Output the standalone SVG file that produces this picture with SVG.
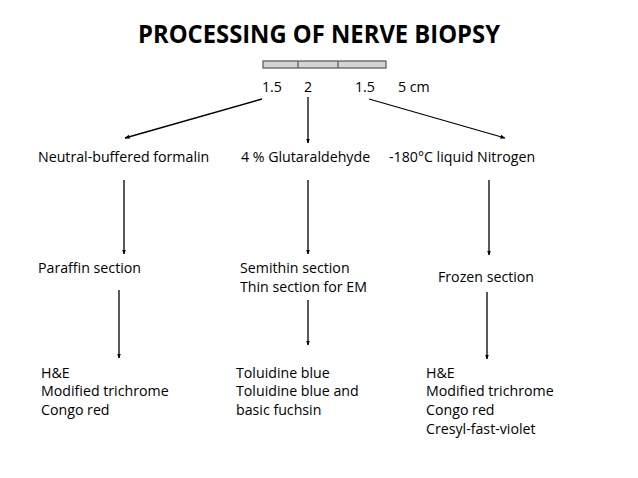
<svg xmlns="http://www.w3.org/2000/svg" width="638" height="478" viewBox="0 0 638 478">
<defs>
<style>
text{font-family:"Open Sans","Liberation Sans",Arial,sans-serif;font-size:14.2px;fill:#000}
.title{font-weight:bold;font-size:25px}
.c{stroke:#000;stroke-width:1.3;fill:none;marker-end:url(#ah)}
.bar{fill:#d4d4d4;stroke:#555;stroke-width:1.2}
</style>
<marker id="ah" viewBox="0 0 10 10" refX="9" refY="5" markerWidth="5" markerHeight="5" orient="auto" markerUnits="userSpaceOnUse">
<path d="M0,1 L10,5 L0,9 z" fill="#000"/>
</marker>
</defs>
<rect width="638" height="478" fill="#fff"/>
<text class="title" x="319" y="43" text-anchor="middle" textLength="362" lengthAdjust="spacingAndGlyphs">PROCESSING OF NERVE BIOPSY</text>
<g id="biopsy">
<rect class="bar" x="263" y="61" width="123" height="7"/>
<line x1="298" y1="61" x2="298" y2="68" stroke="#555" stroke-width="1.2"/>
<line x1="338" y1="61" x2="338" y2="68" stroke="#555" stroke-width="1.2"/>
<text x="262" y="92">1.5</text>
<text x="304" y="92">2</text>
<text x="355" y="92">1.5</text>
<text x="398" y="92">5 cm</text>
</g>
<g id="formalin"><text x="38" y="162">Neutral-buffered formalin</text></g>
<g id="glutaraldehyde"><text x="241" y="162">4 % Glutaraldehyde</text></g>
<g id="nitrogen"><text x="389" y="162">-180°C liquid Nitrogen</text></g>
<g id="paraffin"><text x="38" y="273">Paraffin section</text></g>
<g id="semithin"><text x="240" y="273">Semithin section</text><text x="240" y="292">Thin section for EM</text></g>
<g id="frozen"><text x="438" y="282">Frozen section</text></g>
<g id="stains1"><text x="41" y="378">H&amp;E</text><text x="41" y="396">Modified trichrome</text><text x="41" y="415">Congo red</text></g>
<g id="stains2"><text x="236" y="378">Toluidine blue</text><text x="236" y="396">Toluidine blue and</text><text x="236" y="415">basic fuchsin</text></g>
<g id="stains3"><text x="426" y="378">H&amp;E</text><text x="426" y="396">Modified trichrome</text><text x="426" y="415">Congo red</text><text x="426" y="434">Cresyl-fast-violet</text></g>
<g id="connectors">
<line class="c" x1="262" y1="99" x2="125" y2="138"/>
<line class="c" x1="308" y1="97" x2="308" y2="143"/>
<line class="c" x1="369" y1="99" x2="505" y2="138"/>
<line class="c" x1="124" y1="180" x2="124" y2="254"/>
<line class="c" x1="308" y1="180" x2="308" y2="254"/>
<line class="c" x1="489" y1="180" x2="489" y2="255"/>
<line class="c" x1="119" y1="290" x2="119" y2="358"/>
<line class="c" x1="308" y1="300" x2="308" y2="345"/>
<line class="c" x1="487" y1="292" x2="487" y2="359"/>
</g>
</svg>
